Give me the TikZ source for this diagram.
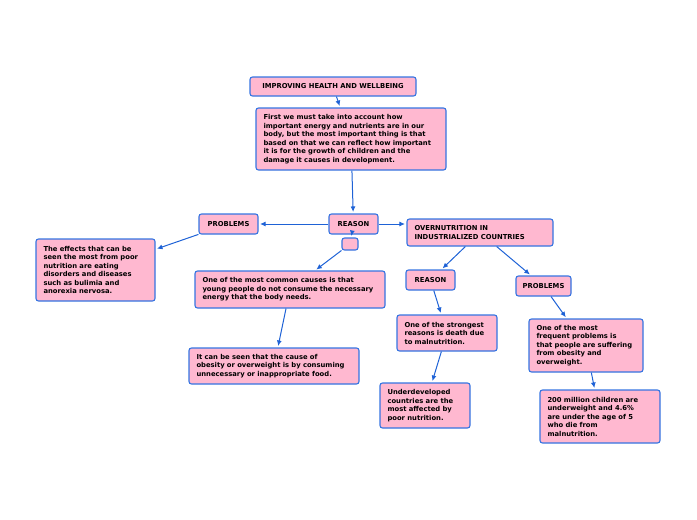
\documentclass[tikz,border=0pt]{standalone}
\usepackage{fontspec}
\setmainfont{DejaVu Sans}
\usepackage{tikz}
\usetikzlibrary{arrows.meta}

\definecolor{mapfill}{HTML}{FFB8D0}
\definecolor{mapedge}{HTML}{3574E2}
\definecolor{maplink}{HTML}{1E62D6}

\tikzset{
	mapbox/.style={draw=mapedge, line width=1.1pt, fill=mapfill, rounded corners=2.5pt,
		inner xsep=7.5pt, inner ysep=3pt, align=left,
		font=\bfseries\fontsize{6.8}{8.5}\selectfont},
	tag/.style={mapbox, align=center, inner xsep=2pt},
	link/.style={-{Latex[length=5.5pt,width=5pt]}, maplink, line width=1pt, shorten >=1.5pt}
}

\begin{document}
\begin{tikzpicture}[x=1pt,y=-1pt]
	\useasboundingbox (0,0) rectangle (697,520);

	% top
	\node [tag, minimum width=166pt, minimum height=19pt] (title) at (333,86.5) {IMPROVING HEALTH AND WELLBEING};
	\node [mapbox, text width=175pt, minimum height=62pt] (intro) at (351,139)
		{First we must take into account how\\important energy and nutrients are in our\\body, but the most important thing is that\\based on that we can reflect how important\\it is for the growth of children and the\\damage it causes in development.};

	% middle row
	\node [tag, minimum width=49pt, minimum height=20pt] (reason) at (353.5,224) {REASON};
	\node [tag, minimum width=59pt, minimum height=20pt] (probl) at (228.5,224) {PROBLEMS};
	\node [mapbox, inner sep=0pt, minimum width=16pt, minimum height=12pt] (blank) at (350,244) {};
	\node [mapbox, text width=131pt, minimum height=27pt] (over) at (480,232.5)
		{OVERNUTRITION IN\\INDUSTRIALIZED COUNTRIES};

	% left side
	\node [mapbox, text width=104pt, minimum height=62pt] (effects) at (95.5,270)
		{The effects that can be\\seen the most from poor\\nutrition are eating\\disorders and diseases\\such as bulimia and\\anorexia nervosa.};
	\node [mapbox, text width=175pt, minimum height=37pt] (causes) at (290,289.5)
		{One of the most common causes is that\\young people do not consume the necessary\\energy that the body needs.};
	\node [mapbox, text width=155pt, minimum height=36pt] (obesity) at (274,366)
		{It can be seen that the cause of\\obesity or overweight is by consuming\\unnecessary or inappropriate food.};

	% right side
	\node [tag, minimum width=49pt, minimum height=20pt] (reasonb) at (430.5,280) {REASON};
	\node [tag, minimum width=55pt, minimum height=20pt] (problb) at (543.5,286) {PROBLEMS};
	\node [mapbox, text width=85pt, minimum height=36pt] (strong) at (447,333)
		{One of the strongest\\reasons is death due\\to malnutrition.};
	\node [mapbox, text width=75pt, minimum height=45pt] (under) at (425,405.5)
		{Underdeveloped\\countries are the\\most affected by\\poor nutrition.};
	\node [mapbox, text width=99pt, minimum height=53pt] (freq) at (586,345.5)
		{One of the most\\frequent problems is\\that people are suffering\\from obesity and\\overweight.};
	\node [mapbox, text width=105pt, minimum height=53pt] (million) at (600,416.5)
		{200 million children are\\underweight and 4.6\%\\are under the age of 5\\who die from\\malnutrition.};

	% links
	\draw [link] (title) -- (intro);
	\draw [link] (intro) -- (reason);
	\draw [link] (reason) -- (probl);
	\draw [link] (reason.east) -- (reason.east -| over.west);
	\draw [link] (reason) -- (blank);
	\draw [link] (probl) -- (effects);
	\draw [link] (blank) -- (causes);
	\draw [link] (causes) -- (obesity);
	\draw [link] (over) -- (reasonb);
	\draw [link] (over) -- (problb);
	\draw [link] (reasonb) -- (strong);
	\draw [link] (strong) -- (under);
	\draw [link] (problb) -- (freq);
	\draw [link] (freq) -- (million);
\end{tikzpicture}
\end{document}
